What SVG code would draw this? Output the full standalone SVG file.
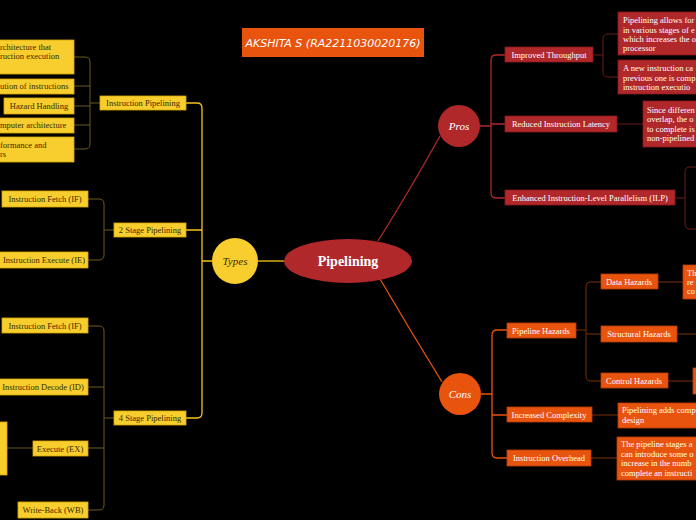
<svg xmlns="http://www.w3.org/2000/svg" width="696" height="520" viewBox="0 0 696 520">
<style>
text{font-family:"Liberation Serif",serif;font-size:8.5px}
.y rect{fill:#f8cd2e;stroke:#d9a800;stroke-width:0.8}
.y text{fill:#3a2c00}
.r rect{fill:#b0282a;stroke:#8a1a1c;stroke-width:0.8}
.o rect{fill:#e8530e;stroke:#b8400a;stroke-width:0.8}
.r text,.o text{fill:#fff}
.cy{stroke:#f5c518;fill:none;stroke-width:1.3}
.cy2{stroke:#6b5a1a;fill:none;stroke-width:1}
.cr{stroke:#b0282a;fill:none;stroke-width:1.3}
.cr2{stroke:#6a1a1a;fill:none;stroke-width:1}
.co{stroke:#e8530e;fill:none;stroke-width:1.3}
.co2{stroke:#7a3008;fill:none;stroke-width:1}
</style>
<rect width="696" height="520" fill="#000"/>
<g id="connectors">
<path class="cy" d="M284 261H258"/>
<path class="cy" d="M212 261H202M186 103H197Q202 103 202 108V413Q202 418 197 418H186M202 230H186"/>
<path class="cy2" d="M74 57H85Q90 57 90 62V144Q90 149 85 149H74M74 86H90M74 106H90M74 125H90M90 103H100"/>
<path class="cy2" d="M88 199H99Q104 199 104 204V255Q104 260 99 260H88M104 230H114"/>
<path class="cy2" d="M88 326H99Q104 326 104 331V505Q104 510 99 510H88M88 387H104M88 448H104M7 448H33M104 418H114"/>
<path class="cr" d="M378 241Q410 190 440 136"/>
<path class="cr" d="M480 126H491M505 55H496Q491 55 491 60V193Q491 198 496 198H505M491 124H505"/>
<path class="cr2" d="M593 55H603M618 34H608Q603 34 603 39V72Q603 77 608 77H618M617 124H643M675 198H685M696 167H690Q685 167 685 172V224Q685 229 690 229H696"/>
<path class="co" d="M380 279Q410 330 442 382"/>
<path class="co" d="M481 394H492M507 330H497Q492 330 492 335V453Q492 458 497 458H507M492 415H507"/>
<path class="co2" d="M576 330H586M601 282H591Q586 282 586 287V376Q586 381 591 381H601M586 334H601M658 282H683M677 334H696M668 381H693M592 415H618M591 458H617"/>
</g>
<g id="title"><rect x="242" y="28" width="182" height="29" fill="#e8530e"/><text x="333" y="47" text-anchor="middle" style="font-family:'DejaVu Sans',sans-serif;font-size:11px;fill:#fff;font-style:italic">AKSHITA S (RA2211030020176)</text></g>
<g id="center"><ellipse cx="348" cy="261" rx="64" ry="22" fill="#b0282a"/><text x="348" y="266" text-anchor="middle" style="font-size:14px;font-weight:bold;fill:#fff">Pipelining</text></g>
<g id="types"><circle cx="235" cy="261" r="23" fill="#f8cd2e"/><text x="235" y="265" text-anchor="middle" style="font-size:11px;font-style:italic;fill:#3a2c00">Types</text></g>
<g id="pros"><circle cx="459" cy="126" r="21" fill="#b0282a"/><text x="459" y="130" text-anchor="middle" style="font-size:11px;font-style:italic;fill:#fff">Pros</text></g>
<g id="cons"><circle cx="460" cy="394" r="21" fill="#e8530e"/><text x="460" y="398" text-anchor="middle" style="font-size:11px;font-style:italic;fill:#fff">Cons</text></g>
<g id="ip" class="y"><rect x="100" y="96" width="86" height="14"/><text x="143" y="106" text-anchor="middle">Instruction Pipelining</text></g>
<g id="ip1" class="y"><rect x="-2" y="40" width="76" height="34"/><text x="0" y="50">rchitecture that</text><text x="0" y="59">ruction execution</text></g>
<g id="ip2" class="y"><rect x="-2" y="79" width="76" height="15"/><text x="0" y="89">ution of instructions</text></g>
<g id="ip3" class="y"><rect x="4" y="98" width="70" height="16"/><text x="39" y="109" text-anchor="middle">Hazard Handling</text></g>
<g id="ip4" class="y"><rect x="-2" y="118" width="76" height="15"/><text x="0" y="128">mputer architecture</text></g>
<g id="ip5" class="y"><rect x="-2" y="137" width="76" height="25"/><text x="0" y="148">formance and</text><text x="0" y="157">rs</text></g>
<g id="s2" class="y"><rect x="114" y="223" width="72" height="14"/><text x="150" y="233" text-anchor="middle">2 Stage Pipelining</text></g>
<g id="s2if" class="y"><rect x="2" y="191" width="86" height="16"/><text x="45" y="202" text-anchor="middle">Instruction Fetch (IF)</text></g>
<g id="s2ie" class="y"><rect x="-2" y="252" width="90" height="16"/><text x="44" y="263" text-anchor="middle">Instruction Execute (IE)</text></g>
<g id="s4" class="y"><rect x="114" y="411" width="72" height="14"/><text x="150" y="421" text-anchor="middle">4 Stage Pipelining</text></g>
<g id="s4if" class="y"><rect x="2" y="318" width="86" height="15"/><text x="45" y="329" text-anchor="middle">Instruction Fetch (IF)</text></g>
<g id="s4id" class="y"><rect x="-2" y="379" width="90" height="16"/><text x="43" y="390" text-anchor="middle">Instruction Decode (ID)</text></g>
<g id="s4ex" class="y"><rect x="33" y="441" width="55" height="15"/><text x="60" y="452" text-anchor="middle">Execute (EX)</text></g>
<g id="s4exl" class="y"><rect x="-2" y="422" width="9" height="53"/></g>
<g id="s4wb" class="y"><rect x="18" y="502" width="70" height="16"/><text x="53" y="513" text-anchor="middle">Write-Back (WB)</text></g>
<g id="it" class="r"><rect x="505" y="47" width="88" height="15"/><text x="549" y="58" text-anchor="middle">Improved Throughput</text></g>
<g id="it1" class="r"><rect x="618" y="12" width="80" height="43"/><text x="623" y="23">Pipelining allows for</text><text x="623" y="33">in various stages of e</text><text x="623" y="42">which increases the o</text><text x="623" y="51">processor</text></g>
<g id="it2" class="r"><rect x="618" y="60" width="80" height="34"/><text x="623" y="71">A new instruction ca</text><text x="623" y="81">previous one is comp</text><text x="623" y="90">instruction executio</text></g>
<g id="rl" class="r"><rect x="505" y="116" width="112" height="16"/><text x="561" y="127" text-anchor="middle">Reduced Instruction Latency</text></g>
<g id="rl1" class="r"><rect x="643" y="101" width="55" height="46"/><text x="647" y="113">Since differen</text><text x="647" y="122">overlap, the o</text><text x="647" y="132">to complete is</text><text x="647" y="141">non-pipelined</text></g>
<g id="ilp" class="r"><rect x="505" y="190" width="170" height="15"/><text x="590" y="201" text-anchor="middle">Enhanced Instruction-Level Parallelism (ILP)</text></g>
<g id="ph" class="o"><rect x="507" y="323" width="69" height="15"/><text x="541" y="334" text-anchor="middle">Pipeline Hazards</text></g>
<g id="dh" class="o"><rect x="601" y="274" width="57" height="15"/><text x="629" y="285" text-anchor="middle">Data Hazards</text></g>
<g id="dh1" class="o"><rect x="683" y="265" width="15" height="34"/><text x="687" y="276">Th</text><text x="687" y="285">re</text><text x="687" y="294">co</text></g>
<g id="sh" class="o"><rect x="601" y="326" width="76" height="16"/><text x="639" y="337" text-anchor="middle">Structural Hazards</text></g>
<g id="ch" class="o"><rect x="601" y="373" width="67" height="15"/><text x="634" y="384" text-anchor="middle">Control Hazards</text></g>
<g id="ch1" class="o"><rect x="693" y="368" width="5" height="26"/></g>
<g id="ic" class="o"><rect x="507" y="407" width="85" height="15"/><text x="549" y="418" text-anchor="middle">Increased Complexity</text></g>
<g id="ic1" class="o"><rect x="618" y="403" width="80" height="25"/><text x="622" y="413">Pipelining adds comp</text><text x="622" y="423">design</text></g>
<g id="io" class="o"><rect x="507" y="450" width="84" height="16"/><text x="549" y="461" text-anchor="middle">Instruction Overhead</text></g>
<g id="io1" class="o"><rect x="617" y="437" width="81" height="43"/><text x="621" y="447">The pipeline stages a</text><text x="621" y="457">can introduce some o</text><text x="621" y="466">increase in the numb</text><text x="621" y="476">complete an instructi</text></g>
</svg>
